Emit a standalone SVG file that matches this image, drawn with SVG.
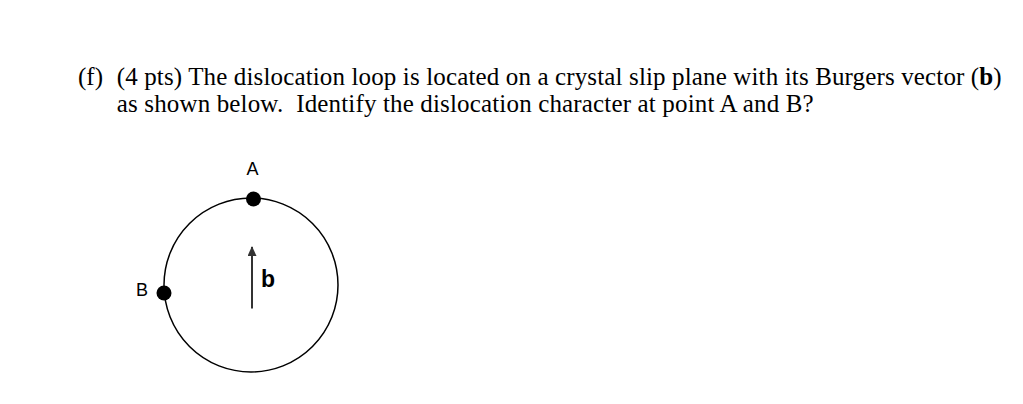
<svg xmlns="http://www.w3.org/2000/svg" width="1023" height="404" viewBox="0 0 1023 404">
<style>
.q{font-family:"Liberation Serif","Times New Roman",serif;font-size:25px;fill:#000;white-space:pre}
.lbl{font-family:"Liberation Sans",Arial,sans-serif;font-size:18px;fill:#000}
.dot{fill:#000}
</style>
<defs>
<marker id="ah" viewBox="0 0 10 9" refX="9" refY="4.5" markerWidth="10" markerHeight="9" markerUnits="userSpaceOnUse" orient="auto">
<path d="M0,0 L10,4.5 L0,9 Z" fill="#333"/>
</marker>
</defs>
<rect width="1023" height="404" fill="#fff"/>
<g id="question">
<text class="q" x="78" y="85">(f)</text>
<text class="q" x="116.7" y="85" textLength="885" lengthAdjust="spacing">(4 pts) The dislocation loop is located on a crystal slip plane with its Burgers vector (<tspan font-weight="bold">b</tspan>)</text>
<text class="q" x="116.7" y="112" textLength="697" lengthAdjust="spacing">as shown below.  Identify the dislocation character at point A and B?</text>
</g>
<g id="loop">
<circle cx="251" cy="285" r="87" fill="none" stroke="#000" stroke-width="1.5"/>
</g>
<g id="pointA">
<circle class="dot" cx="253.5" cy="199" r="7.5"/>
<text class="lbl" x="252.5" y="175" text-anchor="middle">A</text>
</g>
<g id="pointB">
<circle class="dot" cx="164" cy="293" r="7.5"/>
<text class="lbl" x="136" y="296">B</text>
</g>
<g id="connectors">
<line x1="252" y1="308.5" x2="252" y2="247" stroke="#333" stroke-width="2" marker-end="url(#ah)"/>
</g>
<g id="burgers">
<text x="261" y="287" font-family="Liberation Sans,Arial,sans-serif" font-weight="bold" font-size="23" fill="#000">b</text>
</g>
</svg>
